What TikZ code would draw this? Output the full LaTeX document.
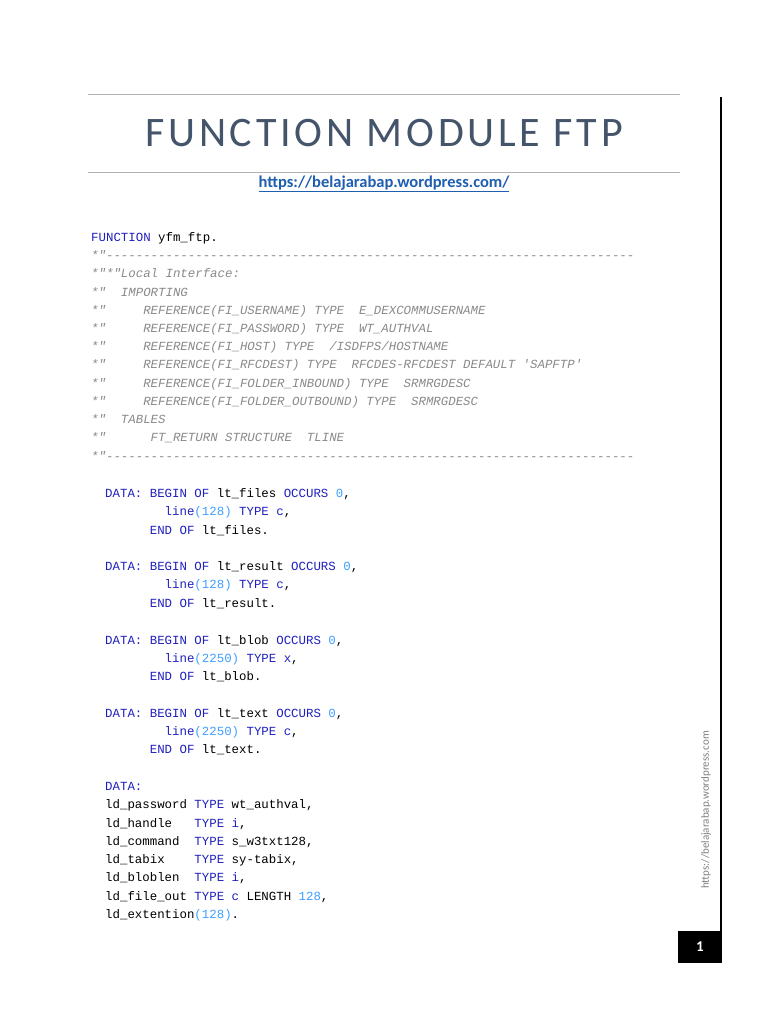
\documentclass[tikz,border=0pt]{standalone}
\usepackage{fontspec}
\setmainfont{Carlito}
\setmonofont{Liberation Mono}
\newfontfamily\titlefont{Carlito}
\definecolor{kwc}{HTML}{2020C0}
\definecolor{numc}{HTML}{3F9FFF}
\definecolor{cmc}{HTML}{8A8A8A}
\definecolor{titc}{HTML}{44546A}
\definecolor{urlc}{HTML}{1F5FB0}
\newcommand{\kw}[1]{\textcolor{kwc}{#1}}
\newcommand{\nm}[1]{\textcolor{numc}{#1}}
\tikzset{code/.style={anchor=base west,inner sep=0,font=\ttfamily\fontsize{12.4}{12}\selectfont},
 cmt/.style={code,text=cmc,font=\ttfamily\itshape\fontsize{12.4}{12}\selectfont}}
\begin{document}
\begin{tikzpicture}[x=1pt,y=-1pt]
\path[use as bounding box,fill=white] (0,0) rectangle (768,1024);
\draw[gray!60,line width=0.8pt] (88,94) -- (680,94);
\draw[gray!60,line width=0.8pt] (88,172) -- (680,172);
\node[text=titc,font=\titlefont\fontsize{42}{42}\selectfont\addfontfeatures{LetterSpace=9}] (title) at (384,133) {FUNCTION MODULE FTP};
\node[text=urlc,font=\bfseries\fontsize{16.5}{16}\selectfont] (url) at (384,184) {\underline{https://belajarabap.wordpress.com/}};
\draw[line width=1.5pt] (721,97) -- (721,935);
\node[fill=black,minimum width=44pt,minimum height=32pt,inner sep=0,text=white,font=\bfseries\fontsize{15}{15}\selectfont] (pg) at (700,947) {1};
\node[rotate=90,text=gray,font=\fontsize{11}{11}\selectfont] (side) at (706,810) {https://belajarabap.wordpress.com};
% header
\node[code] (l1) at (91,241) {\kw{FUNCTION} yfm\_ftp.};
\node[cmt] (l2) at (91,259) {*"-----------------------------------------------------------------------};
\node[cmt] (l3) at (91,277) {*"*"Local Interface:};
\node[cmt] (l4) at (91,296) {*"~~IMPORTING};
\node[cmt] (l5) at (91,314) {*"~~~~~REFERENCE(FI\_USERNAME) TYPE~~E\_DEXCOMMUSERNAME};
\node[cmt] (l6) at (91,332) {*"~~~~~REFERENCE(FI\_PASSWORD) TYPE~~WT\_AUTHVAL};
\node[cmt] (l7) at (91,350) {*"~~~~~REFERENCE(FI\_HOST) TYPE~~/ISDFPS/HOSTNAME};
\node[cmt] (l8) at (91,368) {*"~~~~~REFERENCE(FI\_RFCDEST) TYPE~~RFCDES-RFCDEST DEFAULT 'SAPFTP'};
\node[cmt] (l9) at (91,387) {*"~~~~~REFERENCE(FI\_FOLDER\_INBOUND) TYPE~~SRMRGDESC};
\node[cmt] (l10) at (91,405) {*"~~~~~REFERENCE(FI\_FOLDER\_OUTBOUND) TYPE~~SRMRGDESC};
\node[cmt] (l11) at (91,423) {*"~~TABLES};
\node[cmt] (l12) at (91,441) {*"~~~~~~FT\_RETURN STRUCTURE~~TLINE};
\node[cmt] (l13) at (91,460) {*"-----------------------------------------------------------------------};
% data blocks
\node[code] (a1) at (105,497) {\kw{DATA: BEGIN OF} lt\_files \kw{OCCURS} \nm{0},};
\node[code] (a2) at (105,515) {~~~~~~~~\kw{line}\nm{(128)} \kw{TYPE} \kw{c},};
\node[code] (a3) at (105,534) {~~~~~~\kw{END OF} lt\_files.};
\node[code] (b1) at (105,570) {\kw{DATA: BEGIN OF} lt\_result \kw{OCCURS} \nm{0},};
\node[code] (b2) at (105,588) {~~~~~~~~\kw{line}\nm{(128)} \kw{TYPE} \kw{c},};
\node[code] (b3) at (105,607) {~~~~~~\kw{END OF} lt\_result.};
\node[code] (c1) at (105,644) {\kw{DATA: BEGIN OF} lt\_blob \kw{OCCURS} \nm{0},};
\node[code] (c2) at (105,662) {~~~~~~~~\kw{line}\nm{(2250)} \kw{TYPE} \kw{x},};
\node[code] (c3) at (105,680) {~~~~~~\kw{END OF} lt\_blob.};
\node[code] (d1) at (105,717) {\kw{DATA: BEGIN OF} lt\_text \kw{OCCURS} \nm{0},};
\node[code] (d2) at (105,735) {~~~~~~~~\kw{line}\nm{(2250)} \kw{TYPE} \kw{c},};
\node[code] (d3) at (105,753) {~~~~~~\kw{END OF} lt\_text.};
\node[code] (e1) at (105,790) {\kw{DATA:}};
\node[code] (e2) at (105,808) {ld\_password \kw{TYPE} wt\_authval,};
\node[code] (e3) at (105,827) {ld\_handle~~~\kw{TYPE} \kw{i},};
\node[code] (e4) at (105,845) {ld\_command~~\kw{TYPE} s\_w3txt128,};
\node[code] (e5) at (105,863) {ld\_tabix~~~~\kw{TYPE} sy-tabix,};
\node[code] (e6) at (105,881) {ld\_bloblen~~\kw{TYPE} \kw{i},};
\node[code] (e7) at (105,900) {ld\_file\_out \kw{TYPE} \kw{c} LENGTH \nm{128},};
\node[code] (e8) at (105,918) {ld\_extention\nm{(128)}.};
\end{tikzpicture}
\end{document}
